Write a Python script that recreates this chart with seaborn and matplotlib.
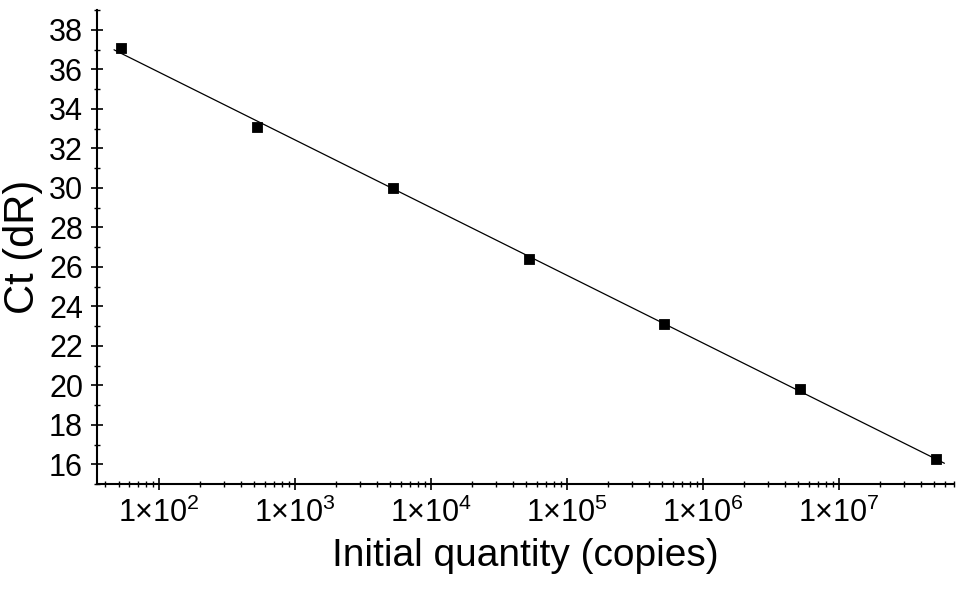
import numpy as np
import matplotlib
matplotlib.use("Agg")
import matplotlib.pyplot as plt
import matplotlib.ticker as mt
import seaborn as sns

quantity = [52, 520, 5.2e3, 5.2e4, 5.2e5, 5.2e6, 5.2e7]
ct = [37.1, 33.1, 30.0, 26.4, 23.1, 19.8, 16.3]
exponents = [2, 3, 4, 5, 6, 7]

sns.set_style("white")
plt.rcParams['font.family'] = ['Liberation Sans', 'DejaVu Sans']
plt.rcParams['mathtext.fontset'] = 'custom'
plt.rcParams['mathtext.rm'] = 'Liberation Sans'
plt.rcParams['mathtext.it'] = 'Liberation Sans'

fig = plt.figure(figsize=(9.69, 5.92), dpi=100)
ax = fig.add_axes([0.1, 0.182, 0.885, 0.801])

lx = np.log10(quantity)
m, b = np.polyfit(lx, ct, 1)
xs = np.array([lx[0] - 0.05, lx[-1] + 0.06])
ax.plot(10**xs, m*xs + b, color='black', lw=0.9)
sns.scatterplot(x=quantity, y=ct, ax=ax, marker='s', s=55, color='black', edgecolor='black')

ax.set_xscale('log')
ax.set_xlim(10**1.54, 10**7.85)
ax.set_ylim(15, 39)
ax.xaxis.set_major_locator(mt.FixedLocator([10.0**e for e in exponents]))
ax.xaxis.set_major_formatter(mt.FuncFormatter(lambda v, p: r'$1{\times}10^{%d}$' % round(np.log10(v))))
ax.xaxis.set_minor_locator(mt.LogLocator(subs=np.arange(2, 10), numticks=20))
ax.xaxis.set_minor_formatter(mt.NullFormatter())
ax.yaxis.set_major_locator(mt.MultipleLocator(2))
ax.yaxis.set_minor_locator(mt.MultipleLocator(1))
for s in ['top', 'right']:
    ax.spines[s].set_visible(False)
for s in ['left', 'bottom']:
    ax.spines[s].set_color('black')
    ax.spines[s].set_linewidth(1.5)
ax.tick_params(which='major', direction='inout', length=8, width=1.2, labelsize=22, colors='black', pad=6)
ax.tick_params(which='minor', direction='inout', length=5, width=1, colors='black')
ax.tick_params(axis='both', which='both', bottom=True, left=True)
ax.set_xlabel('Initial quantity (copies)', fontsize=28, color='black', labelpad=6)
ax.set_ylabel('Ct (dR)', fontsize=30, color='black', labelpad=4)
fig.savefig('out.png', dpi=100)
